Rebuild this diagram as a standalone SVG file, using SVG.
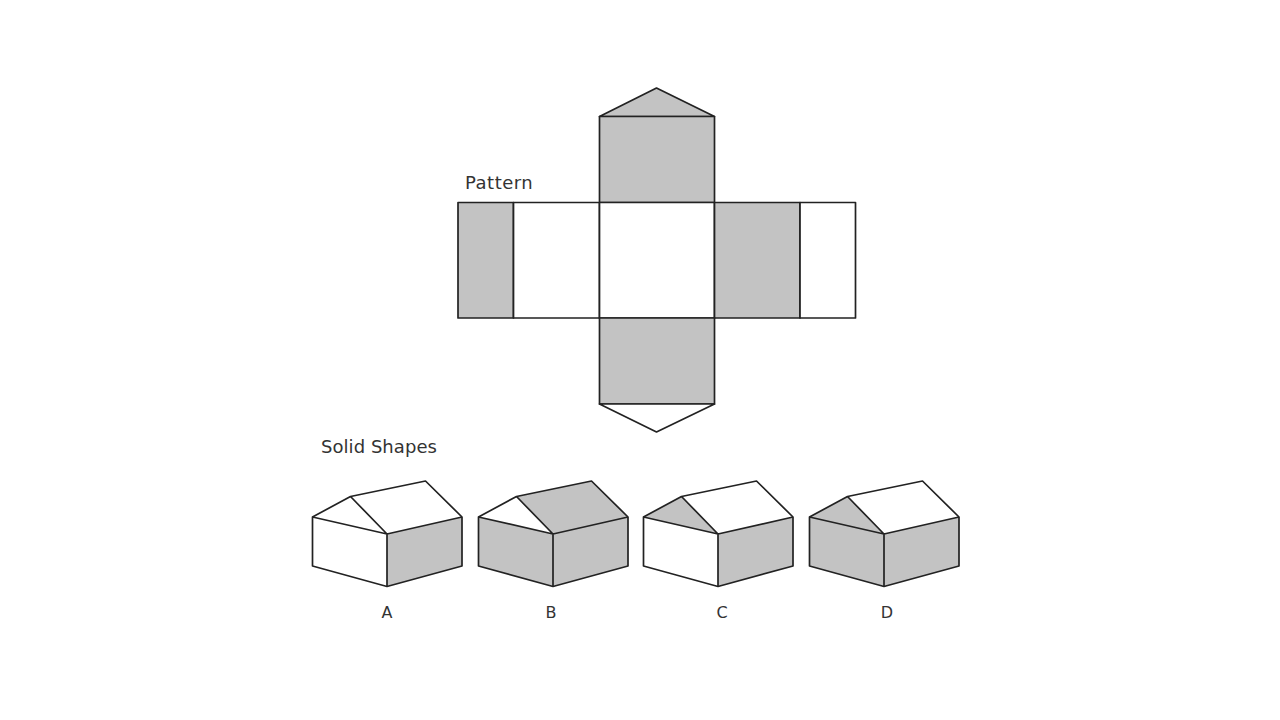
<svg xmlns="http://www.w3.org/2000/svg" width="1280" height="720" viewBox="0 0 1280 720">
<style>
.s{stroke:#222;stroke-width:1.7;stroke-linejoin:round;fill:#fff}
.g{fill:#c3c3c3}
.w{fill:#fff}
text{font-family:"DejaVu Sans",sans-serif;font-size:18px;fill:#333}
.l{font-size:16px;text-anchor:middle}
</style>
<defs>
<g id="frame" fill="none" stroke="#222" stroke-width="1.7" stroke-linejoin="round">
<path d="M0.500 36 L38.500 15.500 L113.500 0 L150 36 L150 85 L75 105.500 L0.500 85 Z"/>
<path d="M0.500 36 L75 53 L150 36 M38.500 15.500 L75 53 L75 105.500"/>
</g>
</defs>
<rect width="1280" height="720" fill="#fff"/>
<g id="pattern">
<path id="top-triangle" class="s g" d="M599.500 116.500 L656.500 88 L714.500 116.500 Z"/>
<rect id="top-rect" class="s g" x="599.500" y="116.500" width="115" height="86"/>
<rect id="left-flap" class="s g" x="458" y="202.500" width="55.500" height="115.500"/>
<rect id="left-rect" class="s w" x="513.500" y="202.500" width="86" height="115.500"/>
<rect id="center-rect" class="s w" x="599.500" y="202.500" width="115" height="115.500"/>
<rect id="right-rect" class="s g" x="714.500" y="202.500" width="85.500" height="115.500"/>
<rect id="right-flap" class="s w" x="800" y="202.500" width="55.500" height="115.500"/>
<rect id="bottom-rect" class="s g" x="599.500" y="318" width="115" height="86"/>
<path id="bottom-triangle" class="s w" d="M599.500 404 L656.500 432 L714.500 404 Z"/>
</g>
<text id="pattern-label" x="465" y="189" letter-spacing="0.5">Pattern</text>
<text id="solid-label" x="321" y="453" letter-spacing="0.05">Solid Shapes</text>
<g id="shape-a" transform="translate(312 481)">
<path class="g" d="M75 53 L150 36 L150 85 L75 105.500 Z"/>
<use href="#frame"/>
</g>
<g id="shape-b" transform="translate(478 481)">
<path class="g" d="M0.500 36 L75 53 L75 105.500 L0.500 85 Z M75 53 L150 36 L150 85 L75 105.500 Z M38.500 15.500 L113.500 0 L150 36 L75 53 Z"/>
<use href="#frame"/>
</g>
<g id="shape-c" transform="translate(643 481)">
<path class="g" d="M75 53 L150 36 L150 85 L75 105.500 Z M0.500 36 L38.500 15.500 L75 53 Z"/>
<use href="#frame"/>
</g>
<g id="shape-d" transform="translate(809 481)">
<path class="g" d="M0.500 36 L75 53 L75 105.500 L0.500 85 Z M75 53 L150 36 L150 85 L75 105.500 Z M0.500 36 L38.500 15.500 L75 53 Z"/>
<use href="#frame"/>
</g>
<text class="l" x="387" y="618">A</text>
<text class="l" x="551" y="618">B</text>
<text class="l" x="722" y="618">C</text>
<text class="l" x="887" y="618">D</text>
</svg>
